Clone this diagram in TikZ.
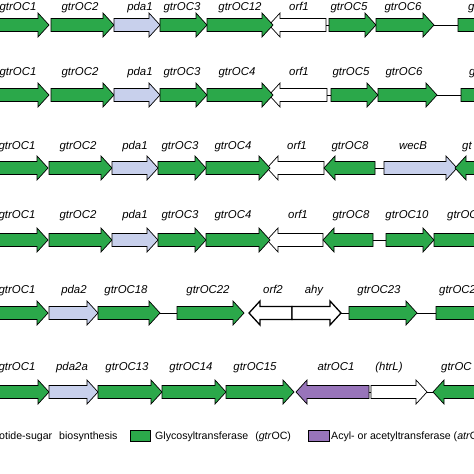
\documentclass[tikz,border=0pt]{standalone}
\usepackage{fontspec}
\setmainfont{Liberation Sans}
\definecolor{gtrgreen}{RGB}{43,168,74}
\definecolor{nucblue}{RGB}{200,208,236}
\definecolor{atrpurple}{RGB}{152,116,186}
\tikzset{
  genebox/.style={draw=black,line width=0.7pt,line join=miter},
  thickgene/.style={draw=black,line width=1.3pt,line join=miter},
  spacer/.style={draw=black,line width=0.7pt},
  lab/.style={anchor=base,font=\fontsize{11.4}{13}\selectfont\itshape,inner sep=0pt},
  labw/.style={anchor=base west,font=\fontsize{11.4}{13}\selectfont\itshape,inner sep=0pt},
  legtext/.style={anchor=base west,font=\fontsize{10.6}{13}\selectfont,inner sep=0pt}
}
% right-pointing gene: style, x start, x tip, y, fill
\newcommand\generight[5]{%
  \filldraw[#1,fill=#5] (#2,#4-6.5) -- (#3-11,#4-6.5) -- (#3-11,#4-12) -- (#3,#4)
    -- (#3-11,#4+12) -- (#3-11,#4+6.5) -- (#2,#4+6.5) -- cycle;}
% left-pointing gene: style, x tip, x end, y, fill
\newcommand\geneleft[5]{%
  \filldraw[#1,fill=#5] (#2,#4) -- (#2+11,#4-12) -- (#2+11,#4-6.5) -- (#3,#4-6.5)
    -- (#3,#4+6.5) -- (#2+11,#4+6.5) -- (#2+11,#4+12) -- cycle;}
\begin{document}
\begin{tikzpicture}[x=1pt,y=-1pt]
\useasboundingbox (0,0) rectangle (474,474);
\clip (0,0) rectangle (474,474);
\fill[white] (0,0) rectangle (474,474);

% ---------- Row 1 ----------
\generight{genebox}{-20}{49}{25}{gtrgreen}
\generight{genebox}{51}{114}{25}{gtrgreen}
\generight{genebox}{114}{160}{25}{nucblue}
\generight{genebox}{160}{207}{25}{gtrgreen}
\geneleft{genebox}{269}{326}{25}{white}
\generight{genebox}{207}{273}{25}{gtrgreen}
\draw[spacer] (326,25) -- (329,25);
\generight{genebox}{329}{376}{25}{gtrgreen}
\generight{genebox}{376}{434}{25}{gtrgreen}
\draw[spacer] (434,25) -- (458,25);
\generight{genebox}{458}{520}{25}{gtrgreen}
\node[lab] (a1) at (18,10) {gtrOC1};
\node[lab] (a2) at (80,10) {gtrOC2};
\node[lab] (a3) at (140,10) {pda1};
\node[lab] (a4) at (182,10) {gtrOC3};
\node[lab] (a5) at (240,10) {gtrOC12};
\node[lab] (a6) at (299,10) {orf1};
\node[lab] (a7) at (349,10) {gtrOC5};
\node[lab] (a8) at (403,10) {gtrOC6};
\node[labw] (a9) at (468,10) {g};

% ---------- Row 2 ----------
\generight{genebox}{-20}{49}{95}{gtrgreen}
\generight{genebox}{51}{114}{95}{gtrgreen}
\generight{genebox}{114}{160}{95}{nucblue}
\generight{genebox}{160}{207}{95}{gtrgreen}
\geneleft{genebox}{269}{327}{95}{white}
\generight{genebox}{207}{273}{95}{gtrgreen}
\draw[spacer] (327,95) -- (331,95);
\generight{genebox}{331}{378}{95}{gtrgreen}
\generight{genebox}{378}{437}{95}{gtrgreen}
\draw[spacer] (437,95) -- (461,95);
\generight{genebox}{461}{520}{95}{gtrgreen}
\node[lab] (b1) at (18,75) {gtrOC1};
\node[lab] (b2) at (80,75) {gtrOC2};
\node[lab] (b3) at (140,75) {pda1};
\node[lab] (b4) at (182,75) {gtrOC3};
\node[lab] (b5) at (237,75) {gtrOC4};
\node[lab] (b6) at (299,75) {orf1};
\node[lab] (b7) at (351,75) {gtrOC5};
\node[lab] (b8) at (404,75) {gtrOC6};
\node[labw] (b9) at (469,75) {g};

% ---------- Row 3 ----------
\generight{genebox}{-20}{48}{168}{gtrgreen}
\generight{genebox}{49}{112}{168}{gtrgreen}
\generight{genebox}{112}{158}{168}{nucblue}
\generight{genebox}{158}{206}{168}{gtrgreen}
\geneleft{genebox}{267}{324}{168}{white}
\generight{genebox}{206}{270}{168}{gtrgreen}
\geneleft{genebox}{324}{375}{168}{gtrgreen}
\draw[spacer] (375,168) -- (384,168);
\generight{genebox}{384}{457}{168}{nucblue}
\geneleft{genebox}{455}{520}{168}{gtrgreen}
\node[lab] (c1) at (17,149) {gtrOC1};
\node[lab] (c2) at (78,149) {gtrOC2};
\node[lab] (c3) at (135,149) {pda1};
\node[lab] (c4) at (180,149) {gtrOC3};
\node[lab] (c5) at (233,149) {gtrOC4};
\node[lab] (c6) at (297,149) {orf1};
\node[lab] (c7) at (350,149) {gtrOC8};
\node[lab] (c8) at (413,149) {wecB};
\node[labw] (c9) at (462,149) {gt};

% ---------- Row 4 ----------
\generight{genebox}{-20}{48}{240}{gtrgreen}
\generight{genebox}{49}{112}{240}{gtrgreen}
\generight{genebox}{112}{158}{240}{nucblue}
\generight{genebox}{158}{206}{240}{gtrgreen}
\geneleft{genebox}{267}{323}{240}{white}
\generight{genebox}{206}{270}{240}{gtrgreen}
\geneleft{genebox}{323}{373}{240}{gtrgreen}
\draw[spacer] (373,240) -- (386,240);
\generight{genebox}{386}{434}{240}{gtrgreen}
\generight{genebox}{434}{520}{240}{gtrgreen}
\node[lab] (d1) at (17,218) {gtrOC1};
\node[lab] (d2) at (78,218) {gtrOC2};
\node[lab] (d3) at (135,218) {pda1};
\node[lab] (d4) at (180,218) {gtrOC3};
\node[lab] (d5) at (233,218) {gtrOC4};
\node[lab] (d6) at (298,218) {orf1};
\node[lab] (d7) at (351,218) {gtrOC8};
\node[lab] (d8) at (407,218) {gtrOC10};
\node[labw] (d9) at (447,218) {gtrOC};

% ---------- Row 5 ----------
\generight{genebox}{-20}{48}{313}{gtrgreen}
\generight{genebox}{49}{98}{313}{nucblue}
\generight{genebox}{98}{160}{313}{gtrgreen}
\draw[spacer] (160,313) -- (177,313);
\generight{genebox}{177}{244}{313}{gtrgreen}
\geneleft{thickgene}{249}{292}{313}{white}
\generight{thickgene}{292}{341}{313}{white}
\draw[spacer] (341,313) -- (349,313);
\generight{genebox}{349}{417}{313}{gtrgreen}
\draw[spacer] (417,313) -- (436,313);
\generight{genebox}{436}{520}{313}{gtrgreen}
\node[lab] (e1) at (17,293) {gtrOC1};
\node[lab] (e2) at (74,293) {pda2};
\node[lab] (e3) at (126,293) {gtrOC18};
\node[lab] (e4) at (208,293) {gtrOC22};
\node[lab] (e5) at (273,293) {orf2};
\node[lab] (e6) at (314,293) {ahy};
\node[lab] (e7) at (379,293) {gtrOC23};
\node[labw] (e8) at (439,293) {gtrOC2};

% ---------- Row 6 ----------
\generight{genebox}{-20}{49}{392}{gtrgreen}
\generight{genebox}{49}{98}{392}{nucblue}
\generight{genebox}{98}{162}{392}{gtrgreen}
\generight{genebox}{162}{226}{392}{gtrgreen}
\generight{genebox}{226}{294}{392}{gtrgreen}
\geneleft{genebox}{296}{369}{392}{atrpurple}
\draw[spacer] (369,392) -- (371,392);
\generight{genebox}{371}{427}{392}{white}
\draw[spacer] (427,392) -- (433,392);
\geneleft{genebox}{433}{520}{392}{gtrgreen}
\node[lab] (f1) at (17,370) {gtrOC1};
\node[lab] (f2) at (72,370) {pda2a};
\node[lab] (f3) at (127,370) {gtrOC13};
\node[lab] (f4) at (191,370) {gtrOC14};
\node[lab] (f5) at (255,370) {gtrOC15};
\node[lab] (f6) at (336,370) {atrOC1};
\node[lab] (f7) at (389,370) {(htrL)};
\node[labw] (f8) at (441,370) {gtrOC};

% ---------- Legend ----------
\node[legtext] (g1) at (-1,439) {otide-sugar\hspace{7pt}biosynthesis};
\draw[genebox,fill=gtrgreen] (130,430) rectangle (150,441);
\node[legtext] (g2) at (155,439) {Glycosyltransferase\hspace{7pt}(\textit{gtr}OC)};
\draw[genebox,fill=atrpurple] (308,430) rectangle (329,441);
\node[legtext] (g3) at (331,439) {Acyl- or acetyltransferase (\textit{atr}OC};
\end{tikzpicture}
\end{document}
